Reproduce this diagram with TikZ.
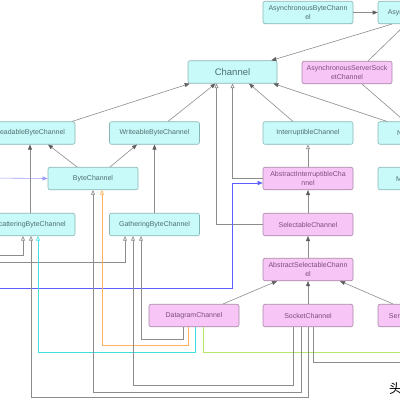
\documentclass[tikz,border=0pt]{standalone}
\usepackage{fontspec}
\setmainfont{Liberation Sans}
\newfontfamily\cjk{Noto Sans CJK SC}
\usetikzlibrary{arrows.meta}
\definecolor{cfill}{HTML}{C8FAFA}
\definecolor{cline}{HTML}{8AB5B5}
\definecolor{ctext}{HTML}{4F6E6E}
\definecolor{pfill}{HTML}{F7C6F7}
\definecolor{pline}{HTML}{A787A7}
\definecolor{ptext}{HTML}{7D4F7D}
\definecolor{lgray}{HTML}{8C8C8C}
\definecolor{agray}{HTML}{5F5F5F}
\definecolor{lblue}{HTML}{9E9EFF}
\definecolor{sblue}{HTML}{5C5CFF}
\definecolor{lcyan}{HTML}{40E0E0}
\definecolor{lorange}{HTML}{FFB060}
\definecolor{lgreen}{HTML}{B5E86A}
\begin{document}
\begin{tikzpicture}[x=1pt,y=-1pt,
  box/.style={draw, rounded corners=2pt, minimum width=90pt, minimum height=22.5pt,
    inner sep=1pt, align=center, line width=0.6pt, font=\fontsize{7}{9.5}\selectfont},
  cbox/.style={box, draw=cline, fill=cfill, text=ctext},
  pbox/.style={box, draw=pline, fill=pfill, text=ptext},
  link/.style={draw=lgray, line width=0.6pt},
  ext/.style={link, -{Triangle[length=5pt,width=4pt,color=agray]}},
  impl/.style={link, -{Triangle[length=4.5pt,width=4pt,fill=white]}}]
\useasboundingbox (0,0) rectangle (400,400);
\clip (0,0) rectangle (400,400);

\node[cbox] (abc) at (308,12.5) {AsynchronousByteChann\\el};
\node[cbox] (ac) at (423,12.5) {AsynchronousChannel};
\node[cbox, minimum width=89pt, font=\fontsize{9.5}{11}\selectfont] (ch) at (232.5,72) {Channel};
\node[pbox] (assc) at (347,72.5) {AsynchronousServerSock\\etChannel};

\node[cbox] (rbc) at (30,133) {ReadableByteChannel};
\node[cbox] (wbc) at (154.5,133) {WriteableByteChannel};
\node[cbox] (ic) at (308,133) {InterruptibleChannel};
\node[cbox] (nc) at (423,133) {NetworkChannel};

\node[cbox] (bc) at (93,178.5) {ByteChannel};
\node[pbox] (aic) at (308,178.5) {AbstractInterruptibleCha\\nnel};
\node[cbox] (mc) at (423,178.5) {MulticastChannel};

\node[cbox] (sbc) at (30,224.5) {ScatteringByteChannel};
\node[cbox] (gbc) at (154.5,224.5) {GatheringByteChannel};
\node[pbox] (sc) at (308,224.5) {SelectableChannel};

\node[pbox] (asc) at (308,269.5) {AbstractSelectableChann\\el};

\node[pbox] (dc) at (194,315.5) {DatagramChannel};
\node[pbox] (skc) at (308,315.5) {SocketChannel};
\node[pbox] (ssc) at (423,315.5) {ServerSocketChannel};

\node[font=\cjk\fontsize{13}{13}\selectfont, anchor=west, inner sep=0pt] (wm) at (389,389) {头};

\coordinate (fbc) at (-10,178);
\coordinate (faic) at (-10,288);
\coordinate (fsa) at (-10,255);
\coordinate (fga) at (-10,262);
\coordinate (fmc) at (410,352);
\coordinate (fsk) at (410,362);

% top row
\draw[ext] (abc.east) -- (ac.west);
\draw[ext] ([xshift=-31pt]ac.south) -- ([xshift=-6pt]ch.north east);
\draw[impl] ([xshift=21pt]assc.north) -- ([xshift=-17pt]ac.south);
\draw[impl] ([xshift=15pt]assc.south) -- ([xshift=-18pt]nc.north);

% into Channel
\draw[ext] ([xshift=42pt]rbc.north) -- ([xshift=2pt]ch.south west);
\draw[ext] ([xshift=13.5pt]wbc.north) -- ([xshift=-17pt]ch.south);
\draw[ext] ([xshift=-15pt]ic.north) -- ([xshift=16.5pt]ch.south);
\draw[ext] ([xshift=-36pt]nc.north) -- ([xshift=-4pt]ch.south east);
\draw[impl] (aic.west) -| (ch.south);
\draw[impl] (sc.west) -| ([xshift=-16pt]ch.south);

% byte channels
\draw[ext] ([xshift=-16pt]bc.north) -- ([xshift=18pt]rbc.south);
\draw[ext] ([xshift=17pt]bc.north) -- ([xshift=-17.5pt]wbc.south);
\draw[ext] (sbc.north) -- (rbc.south);
\draw[ext] (gbc.north) -- (wbc.south);
\draw[draw=lblue, line width=0.6pt, -{Triangle[length=5pt,width=4pt]}] (fbc) -- (bc.west);

% selectable chain
\draw[impl] (aic.north) -- (ic.south);
\draw[ext] (sc.north) -- (aic.south);
\draw[ext] (asc.north) -- (sc.south);
\draw[ext] ([xshift=29pt]dc.north) -- ([xshift=-31pt]asc.south);
\draw[ext] (skc.north) -- (asc.south);
\draw[ext] ([xshift=-30pt]ssc.north) -- ([xshift=32pt]asc.south);
\draw[draw=sblue, line width=0.6pt, -{Triangle[length=5pt,width=4pt]}]
  (faic) -| ([xshift=-30pt,yshift=-4.5pt]aic.west) -- ([yshift=-4.5pt]aic.west);

% lines from below
\draw[impl] (fsa) -| ([xshift=-7pt]sbc.south);
\draw[impl] (fga) -| ([xshift=-29.5pt]gbc.south);
\draw[impl] ([xshift=-11pt]dc.south) -- ++(0,12) -| ([xshift=-13.5pt]gbc.south);
\draw[impl, draw=lorange] ([xshift=-6pt]dc.south) -- ++(0,18) -| ([xshift=9pt]bc.south);
\draw[impl, draw=lcyan] ([xshift=1pt]dc.south) -- ++(0,25) -| ([xshift=8pt]sbc.south);
\draw[link, draw=lgreen] ([xshift=9pt]dc.south) |- (fmc);
\draw[impl] ([xshift=-15pt]skc.south) -- ++(0,58) -| ([xshift=-21.5pt]gbc.south);
\draw[impl] ([xshift=-7pt]skc.south) -- ++(0,65) -| (bc.south);
\draw[impl] (skc.south) -- ++(0,70) -| ([xshift=1pt]sbc.south);
\draw[link] ([xshift=5pt]skc.south) |- (fsk);
\end{tikzpicture}
\end{document}
